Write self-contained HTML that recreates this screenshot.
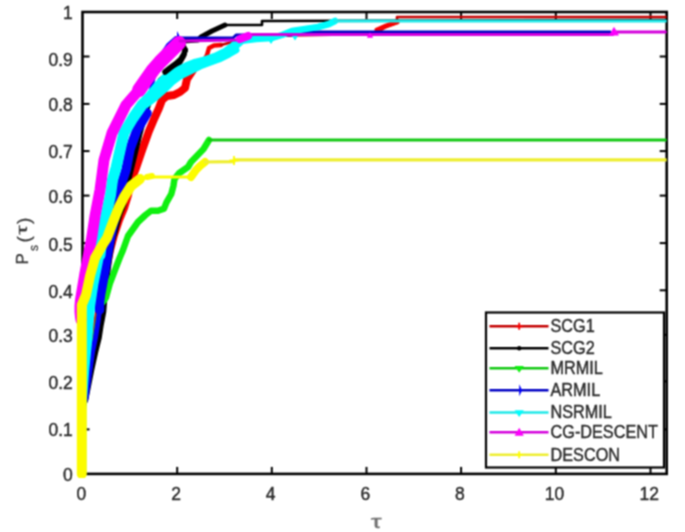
<!DOCTYPE html>
<html><head><meta charset="utf-8"><style>
html,body{margin:0;padding:0;background:#fff;}
svg{display:block;}
text{font-family:"Liberation Sans",Arial,sans-serif;fill:#2a2a2a;stroke:#2a2a2a;stroke-width:0.4px;}
.tk{font-size:17.5px;}
.lg{font-size:17.5px;}
.yl{fill:#383838;stroke:#383838;stroke-width:0.25px;}
</style></head><body>
<svg width="685" height="532" viewBox="0 0 685 532">
<defs><filter id="cv" color-interpolation-filters="sRGB" x="0" y="0" width="685" height="532" filterUnits="userSpaceOnUse"><feConvolveMatrix order="3" kernelMatrix="1 2 1 2 4 2 1 2 1" divisor="16" edgeMode="duplicate"/></filter></defs>
<g filter="url(#cv)">
<rect width="685" height="532" fill="#fff"/>
<defs><clipPath id="c"><rect x="74.5" y="10.0" width="592.2" height="467.9"/></clipPath></defs>
<rect x="82.5" y="12.0" width="584.2" height="461.9" fill="none" stroke="#000" stroke-width="2.6"/><line x1="82.5" y1="429.4" x2="89.5" y2="429.4" stroke="#000" stroke-width="2"/><line x1="659.7" y1="429.4" x2="666.7" y2="429.4" stroke="#000" stroke-width="2"/><line x1="82.5" y1="381.4" x2="89.5" y2="381.4" stroke="#000" stroke-width="2"/><line x1="659.7" y1="381.4" x2="666.7" y2="381.4" stroke="#000" stroke-width="2"/><line x1="82.5" y1="334.8" x2="89.5" y2="334.8" stroke="#000" stroke-width="2"/><line x1="659.7" y1="334.8" x2="666.7" y2="334.8" stroke="#000" stroke-width="2"/><line x1="82.5" y1="290.3" x2="89.5" y2="290.3" stroke="#000" stroke-width="2"/><line x1="659.7" y1="290.3" x2="666.7" y2="290.3" stroke="#000" stroke-width="2"/><line x1="82.5" y1="243.1" x2="89.5" y2="243.1" stroke="#000" stroke-width="2"/><line x1="659.7" y1="243.1" x2="666.7" y2="243.1" stroke="#000" stroke-width="2"/><line x1="82.5" y1="195.6" x2="89.5" y2="195.6" stroke="#000" stroke-width="2"/><line x1="659.7" y1="195.6" x2="666.7" y2="195.6" stroke="#000" stroke-width="2"/><line x1="82.5" y1="151.1" x2="89.5" y2="151.1" stroke="#000" stroke-width="2"/><line x1="659.7" y1="151.1" x2="666.7" y2="151.1" stroke="#000" stroke-width="2"/><line x1="82.5" y1="103.9" x2="89.5" y2="103.9" stroke="#000" stroke-width="2"/><line x1="659.7" y1="103.9" x2="666.7" y2="103.9" stroke="#000" stroke-width="2"/><line x1="82.5" y1="56.5" x2="89.5" y2="56.5" stroke="#000" stroke-width="2"/><line x1="659.7" y1="56.5" x2="666.7" y2="56.5" stroke="#000" stroke-width="2"/><line x1="177.2" y1="473.9" x2="177.2" y2="466.9" stroke="#000" stroke-width="2"/><line x1="177.2" y1="12.0" x2="177.2" y2="19.0" stroke="#000" stroke-width="2"/><line x1="271.8" y1="473.9" x2="271.8" y2="466.9" stroke="#000" stroke-width="2"/><line x1="271.8" y1="12.0" x2="271.8" y2="19.0" stroke="#000" stroke-width="2"/><line x1="366.5" y1="473.9" x2="366.5" y2="466.9" stroke="#000" stroke-width="2"/><line x1="366.5" y1="12.0" x2="366.5" y2="19.0" stroke="#000" stroke-width="2"/><line x1="461.1" y1="473.9" x2="461.1" y2="466.9" stroke="#000" stroke-width="2"/><line x1="461.1" y1="12.0" x2="461.1" y2="19.0" stroke="#000" stroke-width="2"/><line x1="555.8" y1="473.9" x2="555.8" y2="466.9" stroke="#000" stroke-width="2"/><line x1="555.8" y1="12.0" x2="555.8" y2="19.0" stroke="#000" stroke-width="2"/><line x1="650.5" y1="473.9" x2="650.5" y2="466.9" stroke="#000" stroke-width="2"/><line x1="650.5" y1="12.0" x2="650.5" y2="19.0" stroke="#000" stroke-width="2"/>
<g clip-path="url(#c)">
<polyline points="82.0,474.0 82.0,400.0 88.0,370.0 96.0,330.0 101.0,300.0 105.0,275.0 110.0,250.0 114.0,235.0 119.0,220.0 124.0,208.0 128.0,195.0 130.0,183.0 136.0,168.0 142.5,149.0 149.0,131.0 154.5,118.0 159.0,108.0 162.0,100.0 167.0,96.0 174.0,95.0 180.0,92.0 185.0,88.0 187.0,79.0 193.0,70.0" fill="none" stroke="#f80000" stroke-width="8" stroke-linejoin="round" stroke-linecap="round" /><polyline points="193.0,70.0 203.0,62.0 207.0,55.0 209.0,48.0 214.0,45.5 221.0,45.0" fill="none" stroke="#f80000" stroke-width="4.5" stroke-linejoin="round" stroke-linecap="round" /><polyline points="221.0,45.0 240.0,40.0 260.0,36.0 376.0,34.0 385.0,27.0 397.0,23.0 397.0,17.0 666.0,17.0" fill="none" stroke="#c40000" stroke-width="2.6" stroke-linejoin="round" stroke-linecap="round" /><polyline points="377.0,30.0 386.0,26.0 397.0,22.0" fill="none" stroke="#f80000" stroke-width="5" stroke-linejoin="round" stroke-linecap="round" /><polyline points="82.0,474.0 82.0,410.0 86.0,400.0 89.0,385.0 92.0,370.0 96.0,352.0 99.5,338.0 101.5,325.0 104.0,312.0 105.0,300.0 106.5,285.0 110.0,258.0 113.0,240.0 116.0,230.0 120.0,215.0 124.0,205.0 127.0,190.0 129.0,180.0 134.0,160.0 140.0,135.0 146.0,113.0 152.0,95.0 160.0,80.0 166.0,75.0 172.0,70.0 180.0,63.0 184.0,56.0 185.5,50.0" fill="none" stroke="#000000" stroke-width="4.5" stroke-linejoin="round" stroke-linecap="round" /><polyline points="185.5,50.0 183.0,45.0 183.0,41.0 198.0,40.0 201.0,37.0 212.0,31.0 225.0,25.0" fill="none" stroke="#000000" stroke-width="5" stroke-linejoin="round" stroke-linecap="round" /><polyline points="225.0,25.0 262.0,25.0 262.0,21.0 666.0,20.0" fill="none" stroke="#000000" stroke-width="2.6" stroke-linejoin="round" stroke-linecap="round" /><polyline points="82.0,474.0 82.0,410.0 86.0,390.0 90.0,370.0 94.0,340.0 98.0,315.0 103.0,302.0" fill="none" stroke="#10f010" stroke-width="4" stroke-linejoin="round" stroke-linecap="round" /><polyline points="103.0,302.0 106.0,297.5 110.0,283.0 115.5,268.6 119.6,258.0 123.0,250.0 125.5,243.0 128.0,236.0 133.0,229.0 138.0,222.0 145.5,215.0 151.0,210.7 158.0,210.7 164.0,208.6 166.5,202.4 171.3,194.0 173.4,186.0 174.5,179.0 179.0,173.2 188.0,167.0 191.0,162.0 203.5,149.0 209.0,140.0" fill="none" stroke="#10f010" stroke-width="6.5" stroke-linejoin="round" stroke-linecap="round" /><polyline points="209.0,140.0 666.0,140.0" fill="none" stroke="#12c812" stroke-width="2.8" stroke-linejoin="round" stroke-linecap="round" /><polyline points="82.0,474.0 82.0,410.0 86.0,398.0 88.0,385.0 90.0,370.0 92.5,352.0 95.4,338.0 98.0,322.0 99.5,310.0" fill="none" stroke="#0000f8" stroke-width="5" stroke-linejoin="round" stroke-linecap="round" /><polyline points="99.5,310.0 99.5,302.0 100.5,295.0 104.0,276.0 107.0,258.0 110.0,240.0 113.0,225.0 117.0,210.0 120.0,195.0 122.0,182.0 126.0,170.0 130.0,149.0 137.0,130.0 147.0,113.0" fill="none" stroke="#0000f8" stroke-width="9.5" stroke-linejoin="round" stroke-linecap="round" /><polyline points="145.0,113.0 150.0,95.0 153.0,80.0 157.0,64.0 162.0,54.0 168.0,45.0 176.0,38.0" fill="none" stroke="#0000f8" stroke-width="4" stroke-linejoin="round" stroke-linecap="round" /><polyline points="176.0,38.0 233.0,38.0 236.0,35.0 297.0,35.0 297.0,32.0 610.0,32.0" fill="none" stroke="#0000c4" stroke-width="2.8" stroke-linejoin="round" stroke-linecap="round" /><path d="M177,31.0l3.0,6.0l-3.0,6.0z" fill="#0000f8"/><polyline points="82.0,474.0 82.0,410.0 85.0,370.0 88.0,340.0 91.0,305.0 94.0,285.0 97.0,270.0 100.0,255.0" fill="none" stroke="#00fcfc" stroke-width="8.5" stroke-linejoin="round" stroke-linecap="round" /><polyline points="100.0,255.0 102.0,238.0 104.0,225.0 107.5,209.0 110.5,195.0 112.5,180.0 116.0,168.0 124.0,133.0 133.0,118.0 142.0,105.0 150.0,97.0 158.0,87.0 166.0,79.0" fill="none" stroke="#00fcfc" stroke-width="11" stroke-linejoin="round" stroke-linecap="round" /><polyline points="166.0,79.0 176.0,72.0 186.0,67.0 196.0,63.0 204.0,61.0 216.0,57.0 226.0,52.0 233.0,47.0 240.0,41.0" fill="none" stroke="#00fcfc" stroke-width="9" stroke-linejoin="round" stroke-linecap="round" /><polyline points="147.0,104.0 156.0,97.0 165.0,89.0 172.0,82.0 180.0,76.0 190.0,71.0 200.0,66.0 208.0,63.0 219.0,59.0 229.0,54.0 236.0,50.0" fill="none" stroke="#00fcfc" stroke-width="7" stroke-linejoin="round" stroke-linecap="round" /><polyline points="240.0,41.0 256.0,39.0 272.0,38.0 282.0,35.0 292.0,31.0 305.0,29.0 318.0,27.0 329.0,24.0 335.0,21.0" fill="none" stroke="#00fcfc" stroke-width="6.5" stroke-linejoin="round" stroke-linecap="round" /><path d="M290.6,33.8h8.8l-4.4,6.6000000000000005z" fill="#00fcfc"/><path d="M267.0,38.0h8.0l-4.0,6.0z" fill="#00fcfc"/><polyline points="335.0,21.0 666.0,21.0" fill="none" stroke="#20e8e8" stroke-width="3.2" stroke-linejoin="round" stroke-linecap="round" /><polyline points="165.0,72.0 170.0,68.0 176.0,63.5 181.0,59.0 184.0,54.0 185.0,50.0" fill="none" stroke="#000000" stroke-width="5.5" stroke-linejoin="round" stroke-linecap="round" /><polyline points="81.0,474.0 81.0,320.0" fill="none" stroke="#fc00fc" stroke-width="6" stroke-linejoin="round" stroke-linecap="round" /><polyline points="81.0,320.0 79.0,309.0 85.0,273.0 91.5,239.0 95.0,216.0 100.0,190.0 104.0,160.0 112.0,133.0 126.0,105.0 139.0,90.0" fill="none" stroke="#fc00fc" stroke-width="11" stroke-linejoin="round" stroke-linecap="round" /><polyline points="139.0,90.0 146.0,80.0 153.0,70.0 160.0,62.0 167.0,55.0 173.0,49.0 179.0,43.0" fill="none" stroke="#fc00fc" stroke-width="14" stroke-linejoin="round" stroke-linecap="round" /><polyline points="180.0,41.0 237.0,40.0 252.0,34.5 613.0,34.5 613.0,32.0 666.0,32.0" fill="none" stroke="#d400dc" stroke-width="2.8" stroke-linejoin="round" stroke-linecap="round" /><polyline points="240.0,39.0 248.0,36.0" fill="none" stroke="#fc00fc" stroke-width="8" stroke-linejoin="round" stroke-linecap="round" /><path d="M609.0,35.416666666666664h10.0l-5.0,-8.75z" fill="#fc00fc"/><path d="M366.8,37.86666666666667h6.4l-3.2,-5.6000000000000005z" fill="#fc00fc"/><polyline points="81.8,474.0 81.8,305.0 86.0,295.0 90.0,276.0 95.0,258.0 103.0,244.0 107.0,238.0 113.0,222.0 119.0,207.0 124.0,197.0 131.0,186.0 140.0,179.0" fill="none" stroke="#fcfc00" stroke-width="10" stroke-linejoin="round" stroke-linecap="round" /><polyline points="140.0,179.0 150.0,177.0 191.0,177.0" fill="none" stroke="#fcfc00" stroke-width="3.2" stroke-linejoin="round" stroke-linecap="round" /><polyline points="191.0,177.0 196.0,170.0 200.0,166.0 205.0,162.0" fill="none" stroke="#fcfc00" stroke-width="8" stroke-linejoin="round" stroke-linecap="round" /><polyline points="205.0,162.0 234.0,161.6 234.0,159.8 666.0,159.8" fill="none" stroke="#eeee30" stroke-width="3.2" stroke-linejoin="round" stroke-linecap="round" /><path d="M229.45,160.5h9.1M234,155.95v9.1" stroke="#fcfc00" stroke-width="1.8"/><polyline points="147.0,177.0 152.0,176.0" fill="none" stroke="#fcfc00" stroke-width="6" stroke-linejoin="round" stroke-linecap="round" />
</g>
<text class="tk" x="72.8" y="480.8" text-anchor="end">0</text><text class="tk" x="72.8" y="436.3" text-anchor="end">0.1</text><text class="tk" x="72.8" y="388.8" text-anchor="end">0.2</text><text class="tk" x="72.8" y="342.2" text-anchor="end">0.3</text><text class="tk" x="72.8" y="298.3" text-anchor="end">0.4</text><text class="tk" x="72.8" y="250.8" text-anchor="end">0.5</text><text class="tk" x="72.8" y="202.8" text-anchor="end">0.6</text><text class="tk" x="72.8" y="157.8" text-anchor="end">0.7</text><text class="tk" x="72.8" y="110.6" text-anchor="end">0.8</text><text class="tk" x="72.8" y="65.9" text-anchor="end">0.9</text><text class="tk" x="72.8" y="19.4" text-anchor="end">1</text><text class="tk" x="81.3" y="499.8" text-anchor="middle">0</text><text class="tk" x="176.0" y="499.8" text-anchor="middle">2</text><text class="tk" x="270.6" y="499.8" text-anchor="middle">4</text><text class="tk" x="365.3" y="499.8" text-anchor="middle">6</text><text class="tk" x="459.9" y="499.8" text-anchor="middle">8</text><text class="tk" x="554.6" y="499.8" text-anchor="middle">10</text><text class="tk" x="649.3" y="499.8" text-anchor="middle">12</text>
<rect x="486" y="312.5" width="178" height="155.0" fill="#fff" stroke="#000" stroke-width="2.2"/><line x1="489.5" y1="326.3" x2="548.5" y2="326.3" stroke="#c40000" stroke-width="2.6"/><path d="M515.7,326.3h7.0M519.2,322.8v7.0" stroke="#f80000" stroke-width="1.8"/><text class="lg" transform="translate(550.5,332.1) scale(0.93,1)">SCG1</text><line x1="489.5" y1="348.3" x2="548.5" y2="348.3" stroke="#000000" stroke-width="2.6"/><circle cx="519.2" cy="348.3" r="2.2" fill="#000000"/><text class="lg" transform="translate(550.5,354.1) scale(0.93,1)">SCG2</text><line x1="489.5" y1="368.2" x2="548.5" y2="368.2" stroke="#12c812" stroke-width="2.6"/><path d="M514.6,365.9h9.2l-4.6,6.8999999999999995z" fill="#10f010"/><text class="lg" transform="translate(550.5,374.0) scale(0.93,1)">MRMIL</text><line x1="489.5" y1="390.3" x2="548.5" y2="390.3" stroke="#0000c4" stroke-width="2.6"/><path d="M519.2,384.3l3.0,6.0l-3.0,6.0z" fill="#0000f8"/><text class="lg" transform="translate(550.5,396.1) scale(0.93,1)">ARMIL</text><line x1="489.5" y1="412.5" x2="548.5" y2="412.5" stroke="#20e8e8" stroke-width="2.6"/><path d="M514.6,410.2h9.2l-4.6,6.8999999999999995z" fill="#00fcfc"/><text class="lg" transform="translate(550.5,418.3) scale(0.93,1)">NSRMIL</text><line x1="489.5" y1="432.2" x2="548.5" y2="432.2" stroke="#d400dc" stroke-width="2.6"/><path d="M514.6,435.68333333333334h9.2l-4.6,-8.049999999999999z" fill="#fc00fc"/><text class="lg" transform="translate(550.5,438.0) scale(0.93,1)">CG-DESCENT</text><line x1="489.5" y1="454.8" x2="548.5" y2="454.8" stroke="#eeee30" stroke-width="2.6"/><path d="M515.7,454.8h7.0M519.2,451.3v7.0" stroke="#fcfc00" stroke-width="1.8"/><text class="lg" transform="translate(550.5,460.6) scale(0.93,1)">DESCON</text>
<text transform="translate(376.2,527.5) scale(1.45,1)" text-anchor="middle" style="font-size:19px;fill:#707070;stroke:#707070;stroke-width:0.3px">τ</text>
<g transform="translate(27.7,264.5) rotate(-90)">
<text class="yl" x="0" y="0" style="font-size:17px">P</text>
<text class="yl" x="13.6" y="10.5" style="font-size:12px">s</text>
<text class="yl" x="22" y="2" style="font-size:19px">(</text>
<text class="yl" transform="translate(34.5,-1) scale(1.6,1)" text-anchor="middle" style="font-size:15px">τ</text>
<text class="yl" x="40.5" y="2" style="font-size:19px">)</text>
</g>
</g>
</svg>
</body></html>
